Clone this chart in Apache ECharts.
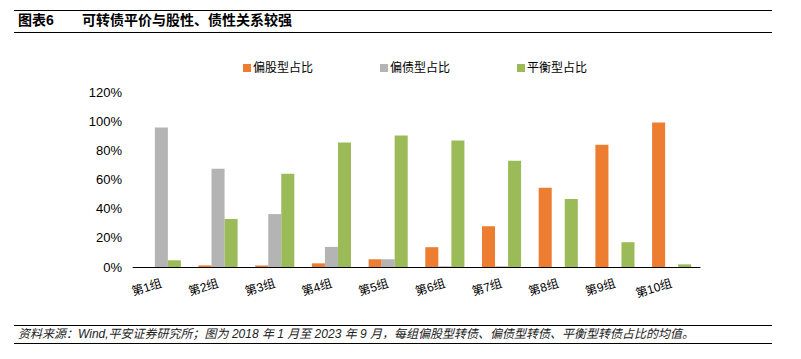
<!DOCTYPE html>
<html><head><meta charset="utf-8">
<script src="https://cdn.jsdelivr.net/npm/echarts@6/dist/echarts.min.js"></script>
<style>html,body{margin:0;padding:0;background:#fff}#c{width:801px;height:359px}</style>
</head><body><div id="c"></div>
<script>
const categories = ['第1组','第2组','第3组','第4组','第5组','第6组','第7组','第8组','第9组','第10组'];
const stockShare = [0, 1.1, 1.1, 2.5, 5.3, 13.6, 28.0, 54.3, 83.9, 99.1];
const bondShare  = [95.6, 67.4, 36.3, 13.8, 5.3, 0.5, 0.5, 0, 0, 0];
const balShare   = [4.6, 32.9, 63.9, 85.3, 90.1, 86.7, 72.9, 46.7, 17.0, 1.8];
const seriesNames = ['偏股型占比','偏债型占比','平衡型占比'];
const yTicks = [0, 20, 40, 60, 80, 100, 120];
const titleNum = '图表6';
const titleText = '可转债平价与股性、债性关系较强';
const sourceText = '资料来源：Wind,平安证券研究所；图为 2018 年 1 月至 2023 年 9 月，每组偏股型转债、偏债型转债、平衡型转债占比的均值。';

const font = '"Liberation Sans", Arial, "Noto Sans CJK SC", sans-serif';
const chart = echarts.init(document.getElementById('c'), null, {renderer: 'svg'});
const colors = ['#ED7D31', '#B4B4B4', '#9BBB59'];
chart.setOption({
  animation: false,
  textStyle: {fontFamily: font},
  legend: {
    top: 57, left: 238, itemGap: 67,
    itemWidth: 8, itemHeight: 8, icon: 'rect',
    textStyle: {fontSize: 12, color: '#000', fontFamily: font, padding: [0,0,0,-3]},
    data: seriesNames
  },
  grid: {left: 133, right: 101, top: 92, bottom: 92},
  xAxis: {
    type: 'category', data: categories,
    axisLine: {lineStyle: {color: '#000', width: 1}},
    axisTick: {inside: true, length: 4, lineStyle: {color: '#000'}},
    axisLabel: {rotate: 17, fontSize: 12, color: '#000', margin: 16, interval: 0, fontFamily: font}
  },
  yAxis: {
    type: 'value', min: yTicks[0], max: yTicks[yTicks.length-1], interval: 20,
    axisLine: {show: false}, axisTick: {show: false}, splitLine: {show: false},
    axisLabel: {formatter: '{value}%', fontSize: 13, color: '#000', margin: 11, fontFamily: font}
  },
  series: [stockShare, bondShare, balShare].map((d, i) => ({
    name: seriesNames[i], type: 'bar', data: d,
    itemStyle: {color: colors[i]},
    barGap: '0%', barCategoryGap: '31%'
  })),
  graphic: [
    {type: 'line', shape: {x1: 14, y1: 10.5, x2: 772, y2: 10.5}, style: {stroke: '#000', lineWidth: 1.2}},
    {type: 'line', shape: {x1: 14, y1: 32.5, x2: 772, y2: 32.5}, style: {stroke: '#000', lineWidth: 1.2}},
    {type: 'text', left: 18, top: 13, style: {text: titleNum, font: 'bold 14px ' + font, fill: '#000'}},
    {type: 'text', left: 82, top: 13, style: {text: titleText, font: 'bold 14px ' + font, fill: '#000'}},
    {type: 'line', shape: {x1: 14, y1: 325.5, x2: 772, y2: 325.5}, style: {stroke: '#000', lineWidth: 1}},
    {type: 'line', shape: {x1: 14, y1: 343.5, x2: 772, y2: 343.5}, style: {stroke: '#000', lineWidth: 1}},
    {type: 'text', left: 18, top: 328, style: {text: sourceText, font: 'italic 12px ' + font, fill: '#222'}}
  ]
});
</script></body></html>
